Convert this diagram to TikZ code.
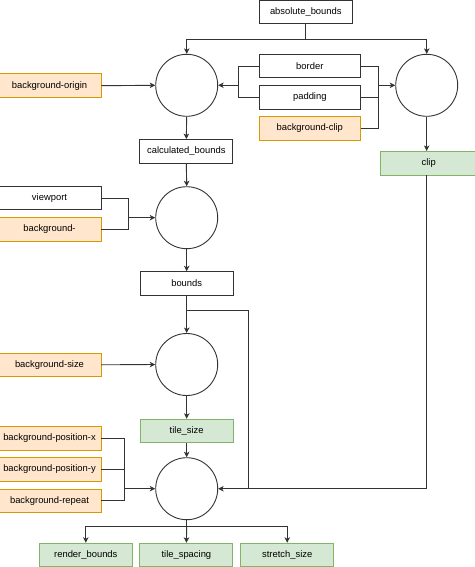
\documentclass[tikz,border=0pt]{standalone}
\usepackage{fontspec}
\setmainfont{Liberation Sans}
\usetikzlibrary{arrows.meta}
\definecolor{linegray}{RGB}{51, 51, 51}
\definecolor{peach}{RGB}{255, 230, 204}
\definecolor{amber}{RGB}{215, 155, 0}
\definecolor{mint}{RGB}{213, 232, 212}
\definecolor{leaf}{RGB}{130, 179, 102}

\begin{document}
\begin{tikzpicture}[x=1pt, y=-1pt,
    font=\fontsize{9.4}{11}\selectfont,
    box/.style={draw=linegray, line width=0.9pt, fill=white, minimum width=93pt, minimum height=23.5pt, inner sep=0pt},
    inbox/.style={box, draw=amber, fill=peach},
    outbox/.style={box, draw=leaf, fill=mint},
    op/.style={draw=linegray, line width=0.9pt, circle, minimum size=62pt, inner sep=0pt},
    wire/.style={draw=linegray, line width=0.9pt},
    arr/.style={wire, -{Stealth[length=5.5pt, width=5.5pt, inset=1.5pt]}}]
            \useasboundingbox (0,0) rectangle (474,567);
            % Top row
            \node[box]                     (absb)     at (305.8,  11.8) {absolute\_bounds};
            \node[op]                      (opcalc)   at (186.7,  85.3) {};
            \node[op]                      (opclip)   at (426.7,  85.3) {};
            \node[box, minimum width=101pt] (border)   at (309.8,  66.0) {border};
            \node[box, minimum width=101pt] (padding)  at (309.8,  97.3) {padding};
            \node[inbox, minimum width=101pt] (bgclip) at (309.8, 128.3) {background-clip};
            \node[inbox, minimum width=103pt] (bgorigin) at (49.5, 85.7) {background-origin};
            \node[box]                     (calcb)    at (186.3, 151.3) {calculated\_bounds};
            \node[outbox, minimum width=96pt] (clip)  at (428.7, 163.2) {clip};
            % Viewport
            \node[box, minimum width=103pt] (viewport) at (49.5, 198.0) {viewport};
            \node[inbox, minimum width=103pt] (bgdash) at (49.5, 229.2) {background-};
            \node[op]                      (opbounds) at (186.7, 217.7) {};
            \node[box]                     (bounds)   at (186.7, 283.5) {bounds};
            % Size
            \node[inbox, minimum width=103pt] (bgsize) at (49.5, 364.8) {background-size};
            \node[op]                      (opsize)   at (186.7, 364.5) {};
            \node[outbox]                  (tilesize) at (186.7, 431.0) {tile\_size};
            % Position
            \node[inbox, minimum width=103pt] (bgposx)   at (49.5, 438.5) {background-position-x};
            \node[inbox, minimum width=103pt] (bgposy)   at (49.5, 469.5) {background-position-y};
            \node[inbox, minimum width=103pt] (bgrepeat) at (49.5, 500.7) {background-repeat};
            \node[op]                      (optile)   at (186.7, 488.7) {};
            \node[outbox]                  (renderb)  at ( 85.8, 555.0) {render\_bounds};
            \node[outbox]                  (tilesp)   at (186.4, 555.0) {tile\_spacing};
            \node[outbox]                  (stretch)  at (287.2, 555.0) {stretch\_size};
            % Junctions
            \coordinate (jtop)   at (305.8,  39.0);
            \coordinate (jleft)  at (238.3,  85.3);
            \coordinate (jright) at (378.0,  85.3);
            \coordinate (jview)  at (128.3, 217.7);
            \coordinate (jbnd)   at (186.7, 310.3);
            \coordinate (jmid)   at (248.3, 488.7);
            \coordinate (jpos)   at (124.3, 488.7);
            \coordinate (jout)   at (186.7, 526.7);
            % Connectors
            \draw[wire] (absb.south) -- (jtop);
            \draw[arr]  (jtop) -| (opcalc.north);
            \draw[arr]  (jtop) -| (opclip.north);
            \draw[arr]  (bgorigin.east) -- (opcalc.west);
            \draw[wire] (border.west) -| (jleft);
            \draw[wire] (padding.west) -| (jleft);
            \draw[arr]  (jleft) -- (opcalc.east);
            \draw[wire] (border.east) -| (jright);
            \draw[wire] (padding.east) -| (jright);
            \draw[wire] (bgclip.east) -| (jright);
            \draw[arr]  (jright) -- (opclip.west);
            \draw[arr]  (opcalc.south) -- (calcb.north);
            \draw[arr]  (opclip.south) -- (opclip.south |- clip.north);
            \draw[arr]  (calcb.south) -- (opbounds.north);
            \draw[wire] (viewport.east) -| (jview);
            \draw[wire] (bgdash.east) -| (jview);
            \draw[arr]  (jview) -- (opbounds.west);
            \draw[arr]  (opbounds.south) -- (bounds.north);
            \draw[arr]  (bounds.south) -- (opsize.north);
            \draw[wire] (jbnd) -| (jmid);
            \draw[arr]  (bgsize.east) -- (opsize.west);
            \draw[arr]  (opsize.south) -- (tilesize.north);
            \draw[arr]  (tilesize.south) -- (optile.north);
            \draw[wire] (bgposx.east) -| (jpos);
            \draw[wire] (bgposy.east) -| (jpos);
            \draw[wire] (bgrepeat.east) -| (jpos);
            \draw[arr]  (jpos) -- (optile.west);
            \draw[arr]  (opclip.south |- clip.south) |- (optile.east);
            \draw[wire] (optile.south) -- (jout);
            \draw[arr]  (jout) -| (renderb.north);
            \draw[arr]  (jout) -- (tilesp.north);
            \draw[arr]  (jout) -| (stretch.north);
\end{tikzpicture}
\end{document}
